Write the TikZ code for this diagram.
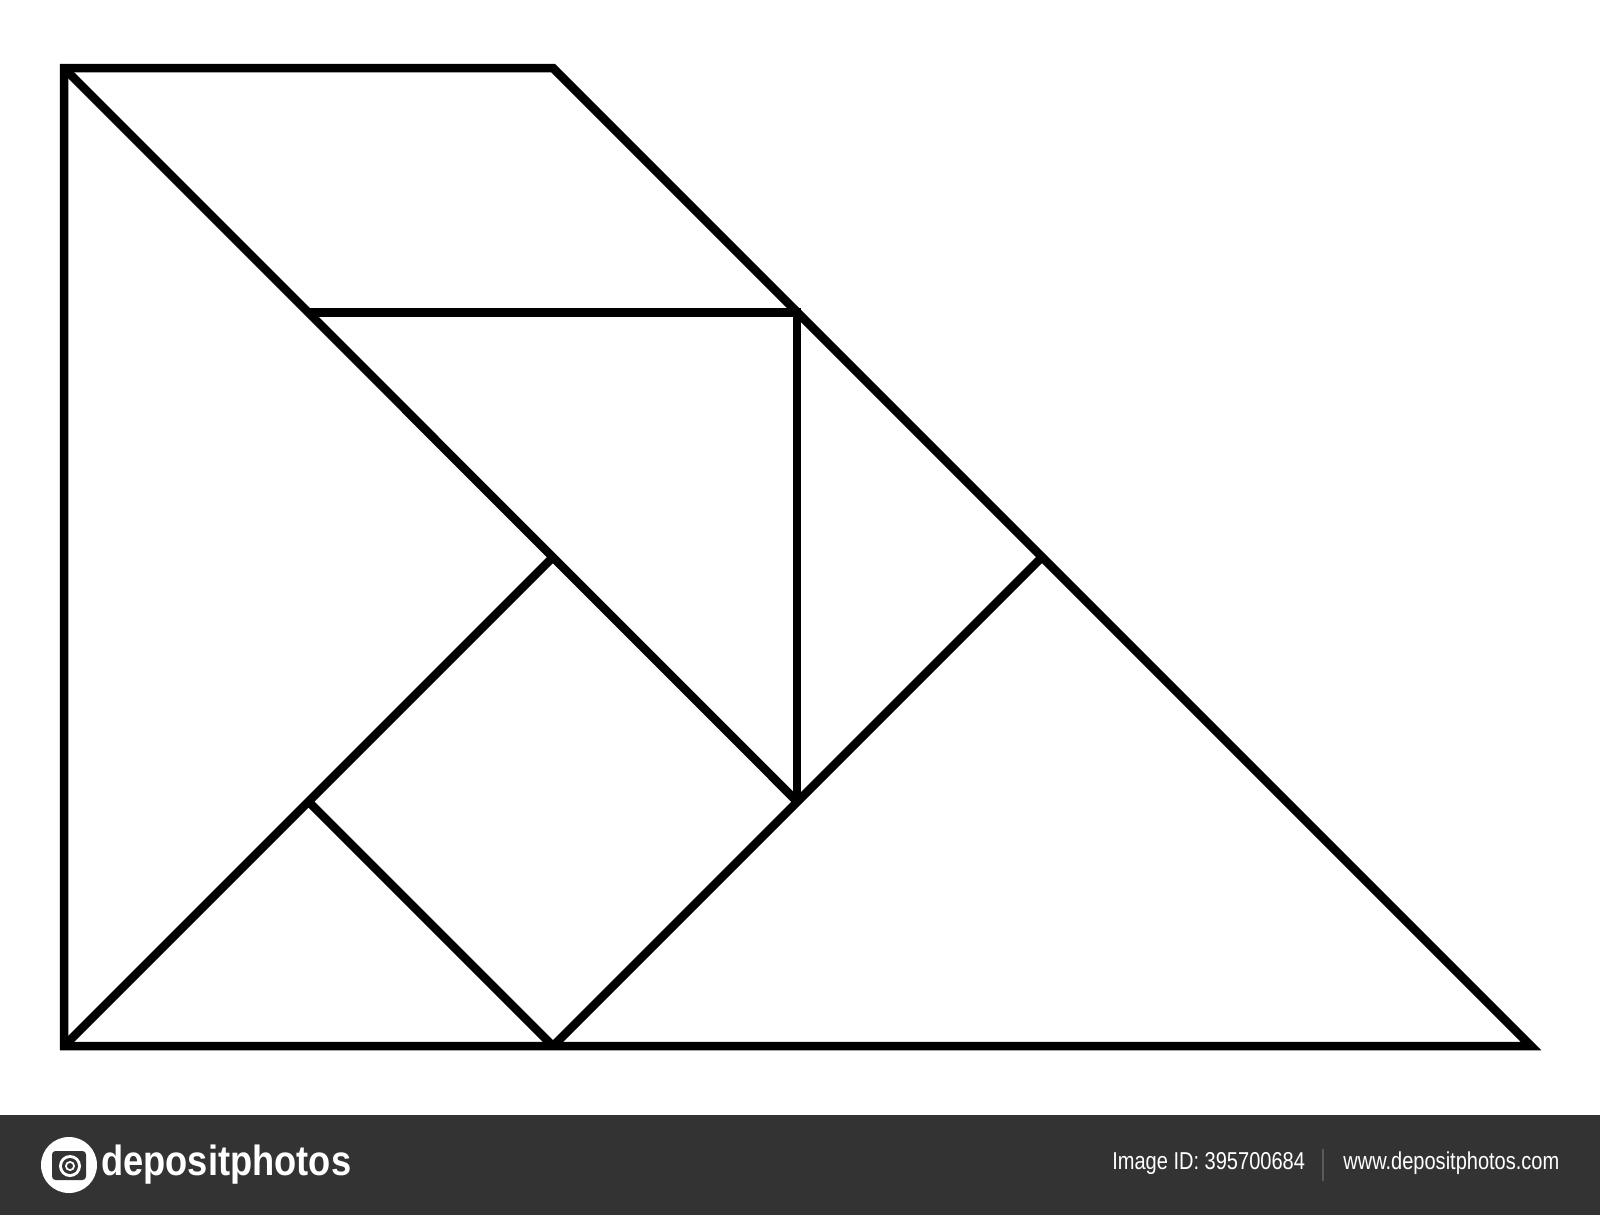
\documentclass[tikz,border=0pt]{standalone}
\usepackage{fontspec}
\setmainfont{Liberation Sans}
\newfontfamily\condfont[FakeStretch=0.82]{Liberation Sans}
\newfontfamily\logofont[FakeStretch=0.86]{Liberation Sans}
\definecolor{barcol}{HTML}{333333}
\definecolor{divcol}{HTML}{5A5A5A}
\tikzset{
  piece/.style={line width=8.5*0.02cm, line join=miter, line cap=butt},
  bartext/.style={text=white, inner sep=0pt, anchor=west, font=\condfont\fontsize{13.9pt}{16pt}\selectfont},
}
\begin{document}
\begin{tikzpicture}[x=0.02cm,y=-0.02cm]
\useasboundingbox (0,0) rectangle (1600,1215);
\fill[white] (0,0) rectangle (1600,1215);
% grid points of the tangram (a = 244.5 px)
\coordinate (TL) at (64,68);
\coordinate (TM) at (553,68);
\coordinate (BL) at (64,1046);
\coordinate (BR) at (1531,1046);
\coordinate (H1) at (308.5,312.5);
\coordinate (H2) at (797,312.5);
\coordinate (C)  at (553,557);
\coordinate (D)  at (1042,557);
\coordinate (V2) at (797,801.5);
\coordinate (S)  at (308.5,801.5);
\coordinate (BM) at (553,1046);
% outline
\draw[piece] (TL) -- (TM) -- (BR) -- (BL) -- cycle;
% inner cuts
\draw[piece] (TL) -- (V2);
\draw[piece] (H1) -- (H2) -- (V2);
\draw[piece] (BL) -- (C);
\draw[piece] (BM) -- (D);
\draw[piece] (S) -- (BM);
% bottom banner
\fill[barcol] (0,1115) rectangle (1600,1215);
% logo
\fill[white] (69,1165) circle (28);
\fill[barcol, rounded corners=2] (52,1151) rectangle (86,1180);
\fill[white] (70,1166) circle (11);
\fill[barcol] (70,1166) circle (8);
\fill[white] (70,1166) circle (5);
\fill[barcol] (70,1166) circle (3);
\node[text=white, inner sep=0pt, anchor=west, font=\logofont\bfseries\fontsize{24pt}{28pt}\selectfont] (logo) at (101,1165) {depositphotos};
\node[bartext] (imgid) at (1112,1163) {Image ID: 395700684};
\draw[divcol, line width=0.03cm] (1323,1149) -- (1323,1181);
\node[bartext] (url) at (1343,1163) {www.depositphotos.com};
\end{tikzpicture}
\end{document}
